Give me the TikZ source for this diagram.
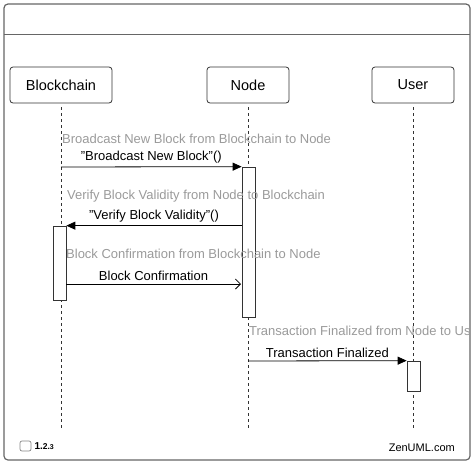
\documentclass[tikz,border=0pt]{standalone}
\usepackage{fontspec}
\setmainfont{Liberation Sans}
\usepackage{tikz}
\usetikzlibrary{arrows.meta,positioning}

\definecolor{framegray}{HTML}{666666}
\definecolor{notegray}{HTML}{9A9A9A}
\definecolor{linegray}{HTML}{333333}
\newcommand{\dq}{\char34}

\begin{document}
\begin{tikzpicture}[x=1pt,y=-1pt]

  %Styles for picture
  \tikzset
  {
  actor/.style={draw=linegray, rounded corners=3pt, line width=0.8pt, minimum width=82pt, minimum height=36pt, inner sep=0pt, font=\fontsize{14.5}{17}\selectfont},
  lifeline/.style={draw=linegray, dashed, line width=0.7pt, shorten <=4pt},
  activation/.style={draw=linegray, fill=white, line width=0.7pt, minimum width=13pt, inner sep=0pt},
  syncmsg/.style={draw=black, line width=0.8pt, -{Triangle[length=9pt,width=8pt]}},
  asyncmsg/.style={draw=black, line width=0.8pt, -{Straight Barb[length=5pt,width=10pt]}},
  msglabel/.style={font=\fontsize{13}{15}\selectfont, inner sep=1pt},
  comment/.style={font=\fontsize{13}{15}\selectfont, text=notegray, inner sep=0pt, anchor=west},
  checkbox/.style={draw=framegray!80, rounded corners=2pt, minimum width=11pt, minimum height=10pt, inner sep=0pt, line width=0.7pt},
  }

  \useasboundingbox (0,0) rectangle (474,464);

  %Frame
  \draw[framegray, line width=1.2pt, rounded corners=4pt] (4,4) rectangle (470,460);
  \draw[framegray, line width=0.8pt] (4,34) -- (470,34);

  %Participants
  \node[actor, minimum width=102pt] (blockchain) at (61,85) {Blockchain};
  \node[actor] (node) at (248,85) {Node};
  \node[actor] (user) at (413,85) {User};

  %Lifelines
  \coordinate (bcEnd) at (61,428);
  \coordinate (ndEnd) at (248,428);
  \coordinate (usEnd) at (413,428);
  \draw[lifeline] (blockchain.south) -- (bcEnd);
  \draw[lifeline] (node.south) -- (ndEnd);
  \draw[lifeline] (user.south) -- (usEnd);

  %Activations
  \node[activation, minimum height=150pt] (actNode) at (248.5,242) {};
  \node[activation, minimum height=74pt] (actChain) at (59.5,263) {};
  \node[activation, minimum height=30pt] (actUser) at (413.5,376) {};

  %Comments
  \node[comment] (note1) at (62,139) {Broadcast New Block from Blockchain to Node};
  \node[comment] (note2) at (67,196) {Verify Block Validity from Node to Blockchain};
  \node[comment] (note3) at (66,254) {Block Confirmation from Blockchain to Node};
  \begin{scope}
    \clip (4,4) rectangle (470,460);
    \node[comment] (note4) at (249,331) {Transaction Finalized from Node to User};
  \end{scope}

  %Messages
  \coordinate (msg1start) at (61,167);
  \coordinate (msg2start) at (actNode.west |- actChain.north);
  \coordinate (msg3start) at (66,284);
  \coordinate (msg3end) at (241,284);
  \coordinate (msg4start) at (248,361);
  \draw[syncmsg] (msg1start) -- node[msglabel, midway, above=2pt] {\dq Broadcast New Block\dq()} (actNode.north west);
  \draw[syncmsg] (msg2start) -- node[msglabel, midway, above=2pt] {\dq Verify Block Validity\dq()} (actChain.north east);
  \draw[asyncmsg] (msg3start) -- node[msglabel, midway, above=2pt] {Block Confirmation} (msg3end);
  \draw[syncmsg] (msg4start) -- node[msglabel, midway, above=2pt] {Transaction Finalized} (actUser.north west);

  %Footer
  \node[checkbox] (chk) at (25.5,446) {};
  \node[right=3pt of chk, inner sep=0pt, font=\fontsize{10}{12}\selectfont\bfseries] (version) {1.{\fontsize{8.5}{10}\selectfont 2.}{\fontsize{7}{8}\selectfont 3}};
  \node[anchor=east, inner sep=0pt, font=\fontsize{11}{13}\selectfont] (brand) at (455,448) {ZenUML.com};
\end{tikzpicture}
\end{document}
